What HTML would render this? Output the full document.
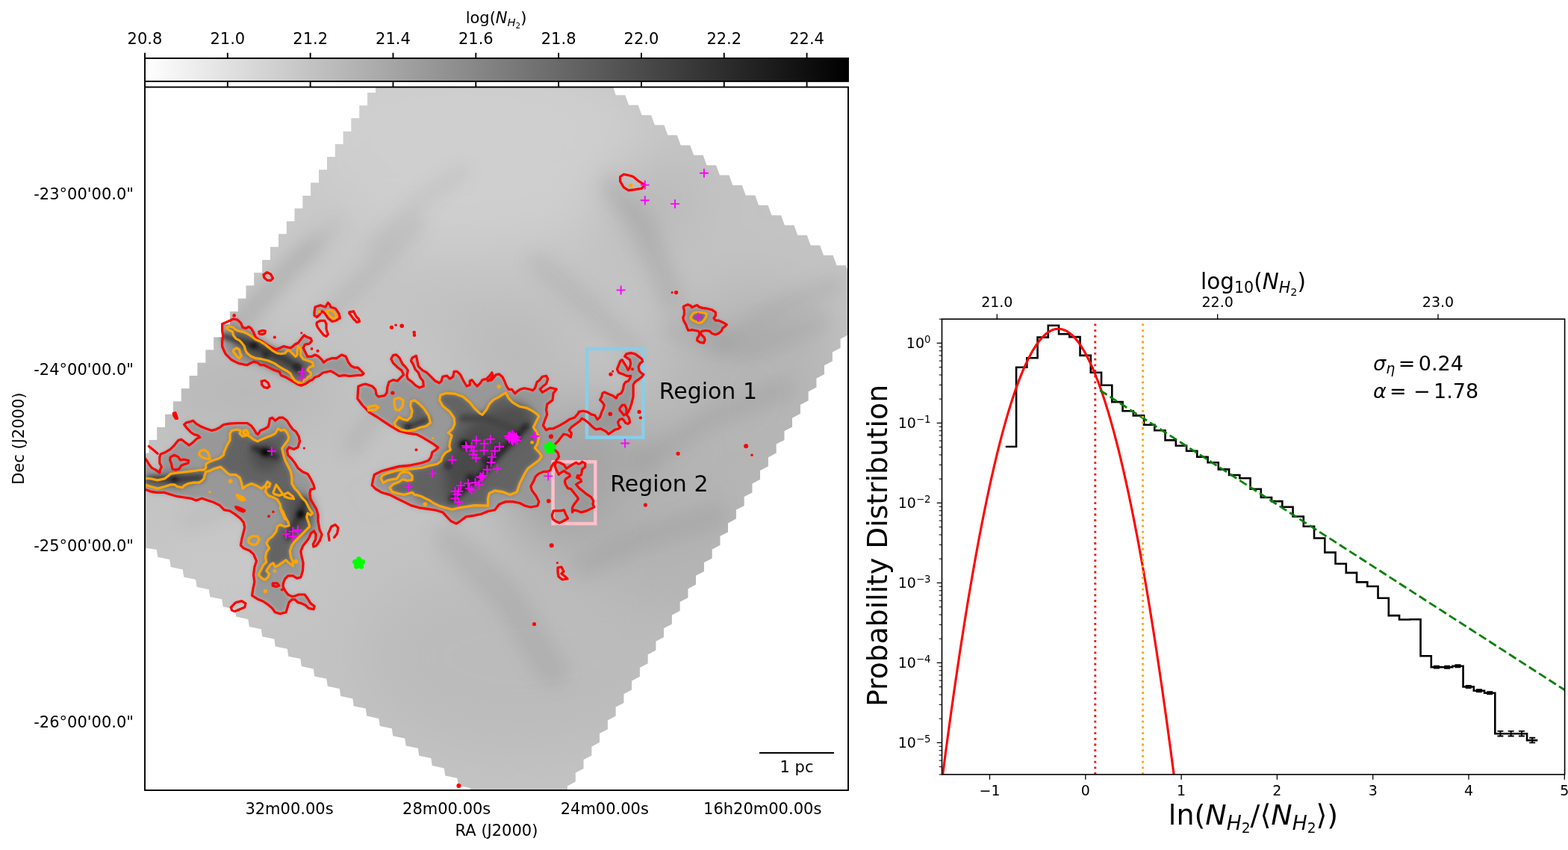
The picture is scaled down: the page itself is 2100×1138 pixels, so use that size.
<!DOCTYPE html>
<html><head><meta charset="utf-8"><style>
html,body{margin:0;padding:0;background:#fff;overflow:hidden;width:2100px;height:1138px;}
svg{display:block;}
text{font-family:"DejaVu Sans","Liberation Sans",sans-serif;fill:#000;}
</style></head><body>
<svg width="2100" height="1138" viewBox="0 0 2100 1138">
<defs><linearGradient id="cbg" x1="0" x2="1" y1="0" y2="0"><stop offset="0" stop-color="#ffffff"/><stop offset="1" stop-color="#000000"/></linearGradient><clipPath id="mapclip"><rect x="194.0" y="116.6" width="942.0" height="941.4"/></clipPath><clipPath id="axclip"><rect x="1261.5" y="427.2" width="834.1" height="609.7"/></clipPath></defs>
<rect x="194.0" y="78.0" width="942.0" height="30.9" fill="url(#cbg)"/>
<rect x="194.0" y="78.0" width="942.0" height="30.9" fill="none" stroke="#000" stroke-width="1.9"/>
<text x="194.00" y="59" text-anchor="middle" font-size="21">20.8</text>
<text x="304.82" y="59" text-anchor="middle" font-size="21">21.0</text>
<text x="415.65" y="59" text-anchor="middle" font-size="21">21.2</text>
<text x="526.47" y="59" text-anchor="middle" font-size="21">21.4</text>
<text x="637.29" y="59" text-anchor="middle" font-size="21">21.6</text>
<text x="748.12" y="59" text-anchor="middle" font-size="21">21.8</text>
<text x="858.94" y="59" text-anchor="middle" font-size="21">22.0</text>
<text x="969.76" y="59" text-anchor="middle" font-size="21">22.2</text>
<text x="1080.59" y="59" text-anchor="middle" font-size="21">22.4</text>
<path d="M194.00 70.8V78.0M194.00 108.9V116.6M304.82 70.8V78.0M304.82 108.9V116.6M415.65 70.8V78.0M415.65 108.9V116.6M526.47 70.8V78.0M526.47 108.9V116.6M637.29 70.8V78.0M637.29 108.9V116.6M748.12 70.8V78.0M748.12 108.9V116.6M858.94 70.8V78.0M858.94 108.9V116.6M969.76 70.8V78.0M969.76 108.9V116.6M1080.59 70.8V78.0M1080.59 108.9V116.6" stroke="#000" stroke-width="1.9" fill="none"/>
<text x="664.5" y="31.4" text-anchor="middle" font-size="21">log(<tspan font-style="italic">N</tspan><tspan font-size="14.7" font-style="italic" dy="3.4">H</tspan><tspan font-size="10.3" dy="2.7">2</tspan><tspan dy="-6.1">)</tspan></text>
<g clip-path="url(#mapclip)"><defs><clipPath id="dataclip"><path d="M190.0,606.4 L199.4,606.4 L199.4,589.1 L210.2,589.1 L210.2,571.9 L221.1,571.9 L221.1,554.7 L231.9,554.7 L231.9,537.5 L242.8,537.5 L242.8,520.3 L253.7,520.3 L253.7,503.0 L264.5,503.0 L264.5,485.8 L275.4,485.8 L275.4,468.6 L286.2,468.6 L286.2,451.4 L297.0,451.4 L297.0,434.2 L307.9,434.2 L307.9,416.9 L318.8,416.9 L318.8,399.7 L329.6,399.7 L329.6,382.5 L340.4,382.5 L340.4,365.3 L351.3,365.3 L351.3,348.1 L362.1,348.1 L362.1,330.8 L373.0,330.8 L373.0,313.6 L383.9,313.6 L383.9,296.4 L394.7,296.4 L394.7,279.2 L405.6,279.2 L405.6,262.0 L416.4,262.0 L416.4,244.7 L427.2,244.7 L427.2,227.5 L438.1,227.5 L438.1,210.3 L448.9,210.3 L448.9,193.1 L459.8,193.1 L459.8,175.9 L470.6,175.9 L470.6,158.6 L481.5,158.6 L481.5,141.4 L492.3,141.4 L492.3,124.2 L503.2,124.2 L503.2,112.0 L820.0,112.0 L819.8,112.0 L824.7,127.4 L837.2,127.4 L842.1,140.8 L854.6,140.8 L859.5,154.2 L872.0,154.2 L876.9,167.6 L889.4,167.6 L894.3,181.0 L906.8,181.0 L911.7,194.4 L924.2,194.4 L929.1,207.8 L941.6,207.8 L946.5,221.2 L959.0,221.2 L963.9,234.6 L976.4,234.6 L981.3,248.0 L993.8,248.0 L998.7,261.4 L1011.2,261.4 L1016.1,274.8 L1028.6,274.8 L1033.5,288.2 L1046.0,288.2 L1050.9,301.6 L1063.4,301.6 L1068.3,315.0 L1080.8,315.0 L1085.7,328.4 L1098.2,328.4 L1103.1,341.8 L1115.6,341.8 L1120.5,355.2 L1133.0,355.2 L1137.9,368.6 L1140.0,368.6 L1140.0,448.2 L1136.3,436.2 L1136.3,448.2 L1125.5,453.8 L1125.5,465.8 L1114.8,471.4 L1114.8,483.4 L1104.0,489.0 L1104.0,501.0 L1093.3,506.6 L1093.3,518.6 L1082.5,524.2 L1082.5,536.2 L1071.8,541.8 L1071.8,553.8 L1061.0,559.4 L1061.0,571.4 L1050.3,577.0 L1050.3,589.0 L1039.5,594.6 L1039.5,606.6 L1028.8,612.2 L1028.8,624.2 L1018.0,629.8 L1018.0,641.8 L1007.3,647.4 L1007.3,659.4 L996.5,665.0 L996.5,677.0 L985.8,682.6 L985.8,694.6 L975.0,700.2 L975.0,712.2 L964.3,717.8 L964.3,729.8 L953.5,735.4 L953.5,747.4 L942.8,753.0 L942.8,765.0 L932.0,770.6 L932.0,782.6 L921.3,788.2 L921.3,800.2 L910.5,805.8 L910.5,817.8 L899.8,823.4 L899.8,835.4 L889.0,841.0 L889.0,853.0 L878.3,858.6 L878.3,870.6 L867.5,876.2 L867.5,888.2 L856.8,893.8 L856.8,905.8 L846.0,911.4 L846.0,923.4 L835.3,929.0 L835.3,941.0 L824.5,946.6 L824.5,958.6 L813.8,964.2 L813.8,976.2 L803.0,981.8 L803.0,993.8 L792.3,999.4 L792.3,1011.4 L781.5,1017.0 L781.5,1029.0 L770.8,1034.6 L770.8,1046.6 L760.0,1052.2 L760.0,1064.2 L749.3,1069.8 L749.3,1081.8 L738.5,1087.4 L738.5,1099.4 L735.0,1064.0 L629.8,1064.0 L631.3,1065.0 L629.8,1055.0 L613.8,1051.7 L612.3,1041.7 L596.3,1038.4 L594.8,1028.4 L578.8,1025.1 L577.3,1015.1 L561.3,1011.8 L559.8,1001.8 L543.8,998.5 L542.3,988.5 L526.3,985.2 L524.8,975.2 L508.8,971.9 L507.3,961.9 L491.3,958.6 L489.8,948.6 L473.8,945.3 L472.3,935.3 L456.3,932.0 L454.8,922.0 L438.8,918.7 L437.3,908.7 L421.3,905.4 L419.8,895.4 L403.8,892.1 L402.3,882.1 L386.3,878.8 L384.8,868.8 L368.8,865.5 L367.3,855.5 L351.3,852.2 L349.8,842.2 L333.8,838.9 L332.3,828.9 L316.3,825.6 L314.8,815.6 L298.8,812.3 L297.3,802.3 L281.3,799.0 L279.8,789.0 L263.8,785.7 L262.3,775.7 L246.3,772.4 L244.8,762.4 L228.8,759.1 L227.3,749.1 L211.3,745.8 L209.8,735.8 L190.0,733.0Z"/></clipPath><filter id="bl3" x="-20%" y="-20%" width="140%" height="140%"><feGaussianBlur stdDeviation="3"/></filter><filter id="bl6" x="-30%" y="-30%" width="160%" height="160%"><feGaussianBlur stdDeviation="6"/></filter><filter id="bl8" x="-50%" y="-50%" width="200%" height="200%"><feGaussianBlur stdDeviation="8"/></filter><filter id="bl12" x="-50%" y="-50%" width="200%" height="200%"><feGaussianBlur stdDeviation="12"/></filter><filter id="bl20" x="-50%" y="-50%" width="200%" height="200%"><feGaussianBlur stdDeviation="20"/></filter><filter id="bl40" x="-50%" y="-50%" width="200%" height="200%"><feGaussianBlur stdDeviation="40"/></filter></defs>
<g clip-path="url(#dataclip)">
<rect x="190" y="110" width="950" height="955" fill="#c3c3c3"/>
<g filter="url(#bl40)">
<ellipse cx="620" cy="200" rx="260" ry="140" fill="#cfcfcf"/>
<ellipse cx="380" cy="330" rx="120" ry="110" fill="#c8c8c8"/>
<ellipse cx="1010" cy="530" rx="130" ry="150" fill="#b5b5b5"/>
<ellipse cx="780" cy="640" rx="110" ry="100" fill="#a2a2a2"/>
<ellipse cx="330" cy="525" rx="130" ry="55" fill="#b8b8b8"/>
<ellipse cx="640" cy="470" rx="120" ry="50" fill="#b8b8b8"/>
<ellipse cx="870" cy="270" rx="60" ry="50" fill="#b6b6b6"/>
<ellipse cx="700" cy="880" rx="220" ry="130" fill="#bbbbbb"/>
<ellipse cx="300" cy="760" rx="110" ry="60" fill="#c9c9c9"/>
<ellipse cx="560" cy="480" rx="80" ry="40" fill="#c6c6c6"/>
<ellipse cx="920" cy="720" rx="120" ry="110" fill="#b3b3b3"/>
</g>
<g filter="url(#bl12)" fill="none" stroke-linecap="round" stroke-linejoin="round">
<path d="M300.0,445.0 L360.0,390.0 L420.0,330.0" stroke="#000" stroke-opacity="0.08" stroke-width="24"/>
<path d="M330.0,430.0 L380.0,360.0 L450.0,300.0" stroke="#000" stroke-opacity="0.06" stroke-width="19"/>
<path d="M440.0,420.0 L500.0,360.0 L560.0,300.0" stroke="#000" stroke-opacity="0.06" stroke-width="24"/>
<path d="M500.0,330.0 L560.0,270.0 L620.0,230.0" stroke="#000" stroke-opacity="0.06" stroke-width="19"/>
<path d="M820.0,250.0 L860.0,300.0 L900.0,400.0" stroke="#000" stroke-opacity="0.08" stroke-width="33"/>
<path d="M900.0,440.0 L1000.0,470.0 L1100.0,430.0" stroke="#000" stroke-opacity="0.06" stroke-width="28"/>
<path d="M960.0,460.0 L1050.0,410.0 L1120.0,380.0" stroke="#000" stroke-opacity="0.06" stroke-width="24"/>
<path d="M720.0,350.0 L800.0,420.0 L850.0,470.0" stroke="#000" stroke-opacity="0.06" stroke-width="28"/>
<path d="M600.0,720.0 L680.0,800.0 L740.0,900.0" stroke="#000" stroke-opacity="0.06" stroke-width="43"/>
<path d="M860.0,620.0 L950.0,560.0 L1050.0,520.0" stroke="#000" stroke-opacity="0.06" stroke-width="28"/>
<path d="M780.0,760.0 L860.0,720.0 L960.0,690.0" stroke="#000" stroke-opacity="0.05" stroke-width="33"/>
<path d="M470.0,600.0 L500.0,560.0 L530.0,520.0" stroke="#000" stroke-opacity="0.08" stroke-width="19"/>
<path d="M250.0,700.0 L300.0,680.0 L340.0,650.0" stroke="#000" stroke-opacity="0.05" stroke-width="19"/>
</g>
<g filter="url(#bl3)">
<path d="M297.6,433.8 L307.9,429.3 L312.4,427.0 L318.1,428.1 L322.7,432.7 L325.0,438.4 L329.6,439.6 L333.0,437.3 L336.4,439.6 L339.8,445.3 L342.1,451.0 L345.6,454.4 L351.3,457.3 L357.0,461.3 L362.7,464.7 L369.6,468.1 L375.3,465.8 L379.8,463.6 L384.4,464.7 L389.0,465.8 L392.4,463.6 L394.7,461.3 L399.3,459.0 L403.8,453.3 L407.3,448.7 L410.7,451.0 L416.4,453.3 L417.5,456.7 L414.1,460.1 L408.4,461.3 L406.1,465.8 L409.5,472.7 L411.8,477.3 L417.5,477.3 L422.1,475.0 L426.7,477.3 L431.3,481.8 L433.5,485.3 L438.1,481.8 L445.0,479.6 L450.7,479.6 L457.5,475.0 L463.2,477.3 L466.7,485.3 L470.1,489.8 L474.7,492.1 L479.2,492.1 L482.7,495.5 L487.2,500.1 L483.8,502.4 L479.2,502.4 L473.5,503.0 L467.8,503.5 L461.0,502.4 L454.1,503.5 L447.2,499.0 L442.7,496.7 L438.1,497.8 L432.4,499.0 L426.7,503.5 L422.1,504.7 L418.7,508.1 L414.1,510.4 L409.5,513.8 L403.8,516.1 L399.3,515.0 L393.5,511.5 L387.8,508.1 L382.1,504.7 L376.4,502.4 L374.1,497.8 L367.3,495.5 L360.4,492.1 L353.6,488.7 L349.0,488.7 L344.4,485.3 L339.8,484.1 L335.3,486.4 L330.7,488.7 L325.0,487.6 L319.3,486.4 L314.7,484.1 L310.1,481.8 L305.6,477.3 L302.1,473.8 L299.9,469.3 L297.6,463.6 L297.6,456.7 L298.7,449.8 L297.6,443.0Z" fill="#989898"/>
<path d="M421.0,417.9 L422.1,411.0 L429.0,408.7 L435.8,411.0 L439.3,405.3 L441.5,407.6 L442.7,411.0 L449.5,413.3 L454.1,420.1 L455.2,425.9 L449.5,429.3 L445.0,430.4 L439.3,425.9 L434.7,419.0 L431.3,416.7 L427.8,421.3 L424.4,424.7 L421.0,422.4Z" fill="#989898"/>
<path d="M490.0,514.2 L498.4,517.0 L502.7,521.3 L504.1,528.3 L506.9,531.1 L515.3,529.7 L518.1,525.5 L518.8,518.4 L520.9,511.4 L526.6,508.6 L532.2,510.0 L537.8,504.4 L540.6,501.6 L537.8,495.9 L532.2,491.7 L526.6,486.1 L523.8,480.5 L526.6,475.5 L530.8,474.8 L535.0,479.1 L539.2,487.5 L543.4,491.7 L546.3,495.9 L544.8,503.0 L546.3,507.2 L551.9,511.4 L556.1,515.6 L561.7,519.1 L567.3,517.0 L566.6,510.0 L563.1,505.8 L560.3,498.8 L556.1,494.5 L553.3,487.5 L550.5,483.3 L551.9,479.1 L557.5,476.3 L558.9,483.3 L560.3,490.3 L565.9,495.9 L571.6,498.8 L577.2,504.4 L582.8,510.0 L588.4,512.8 L591.3,510.0 L592.7,504.4 L598.3,503.0 L602.5,507.2 L606.7,504.4 L608.1,497.3 L612.3,497.3 L616.6,501.6 L620.8,510.0 L625.0,517.0 L629.2,515.6 L629.2,510.0 L632.0,508.6 L636.3,514.2 L639.1,517.0 L643.3,512.8 L646.1,508.6 L651.7,507.2 L655.9,503.0 L658.8,498.8 L660.2,503.0 L657.3,507.2 L653.1,510.0 L658.8,508.6 L664.4,501.6 L668.6,500.9 L672.8,504.4 L675.6,510.0 L678.4,517.0 L681.3,521.3 L685.5,521.3 L689.7,526.9 L692.5,524.1 L696.7,521.3 L702.3,519.8 L709.4,521.3 L713.6,522.7 L716.4,519.8 L719.2,511.4 L722.1,509.5 L726.3,504.2 L731.6,503.2 L733.7,507.4 L731.6,513.7 L727.4,516.9 L723.2,521.1 L726.3,525.3 L731.6,522.2 L736.9,519.0 L745.3,521.1 L741.1,526.4 L740.0,535.9 L732.7,541.1 L731.6,548.5 L732.7,554.9 L729.5,563.3 L727.4,569.6 L731.6,575.9 L735.8,573.8 L741.1,573.8 L749.5,569.6 L756.9,565.4 L763.2,561.2 L769.6,559.1 L774.9,552.7 L775.0,551.4 L780.7,550.3 L786.4,551.4 L792.1,554.9 L796.7,556.0 L800.1,561.7 L803.6,558.3 L805.9,551.4 L808.1,546.9 L809.3,542.3 L807.0,538.9 L803.6,535.4 L805.9,530.9 L807.0,526.3 L809.3,525.1 L815.0,527.4 L820.7,529.7 L825.3,533.1 L827.6,528.6 L832.1,526.3 L834.4,521.7 L835.6,514.9 L837.9,511.4 L841.3,510.3 L843.6,506.9 L844.7,503.4 L840.1,503.4 L834.4,501.1 L828.7,498.9 L826.4,494.3 L828.7,488.6 L831.0,482.9 L833.3,481.7 L836.7,487.4 L839.0,490.9 L841.3,495.4 L843.6,492.0 L844.7,486.3 L843.6,481.7 L840.1,479.4 L836.7,477.1 L839.0,473.7 L844.7,472.6 L850.4,473.7 L855.0,477.1 L859.6,480.6 L860.7,484.0 L857.3,486.3 L855.0,490.9 L856.1,496.6 L859.6,500.0 L861.9,501.1 L859.6,504.6 L855.0,508.0 L850.4,511.4 L848.1,514.9 L848.1,522.9 L848.1,530.9 L845.9,540.0 L843.6,546.9 L841.3,551.4 L839.0,554.9 L842.4,559.4 L843.6,565.1 L841.3,567.4 L837.9,566.3 L835.6,562.9 L833.3,560.6 L829.9,561.7 L827.6,565.1 L828.7,569.7 L831.0,572.0 L827.6,574.3 L823.0,575.4 L818.4,578.9 L815.0,581.1 L811.6,577.7 L804.4,573.8 L798.1,574.9 L793.8,571.7 L788.6,566.5 L783.3,562.2 L779.1,560.1 L777.0,563.3 L772.7,566.5 L765.4,571.7 L762.2,575.9 L765.4,580.2 L764.3,585.4 L760.1,582.3 L754.8,581.2 L750.6,586.5 L747.4,590.7 L743.2,594.9 L740.0,601.3 L744.3,603.4 L747.4,606.5 L748.5,611.8 L745.3,616.0 L744.3,618.2 L749.3,619.2 L755.4,622.3 L758.4,627.3 L761.5,625.3 L767.5,621.3 L771.6,619.2 L774.6,621.3 L777.6,620.3 L779.6,618.2 L783.7,620.3 L783.7,625.3 L779.6,628.3 L778.6,635.4 L775.6,637.4 L773.6,636.4 L772.6,639.4 L777.6,641.5 L778.6,644.5 L774.6,646.5 L771.6,648.5 L775.6,653.6 L780.7,657.6 L785.7,661.7 L791.8,665.7 L794.8,670.8 L793.8,674.8 L795.8,678.8 L791.8,680.9 L785.7,683.9 L778.6,685.9 L773.6,683.9 L768.5,682.9 L766.5,685.9 L766.5,679.8 L768.5,675.8 L771.6,671.8 L774.6,667.7 L772.6,664.7 L768.5,659.6 L764.5,654.6 L760.5,653.6 L757.4,648.5 L756.4,644.5 L757.4,641.5 L760.5,639.4 L763.5,637.4 L762.5,634.4 L759.4,633.4 L755.4,630.4 L750.4,633.4 L748.3,635.4 L745.3,629.3 L743.3,624.3 L744.3,618.2 L741.3,620.3 L738.2,625.3 L737.2,629.3 L733.2,631.4 L728.1,631.4 L721.1,634.4 L717.0,638.4 L715.0,643.5 L710.7,651.3 L712.6,656.9 L718.1,664.2 L721.8,671.6 L719.9,677.2 L710.7,679.0 L703.3,677.2 L696.0,673.5 L686.7,671.6 L677.5,671.6 L668.3,675.3 L662.7,682.7 L653.5,684.5 L644.3,688.2 L635.1,690.1 L624.0,691.9 L616.6,697.5 L611.1,701.1 L603.7,697.5 L593.1,686.1 L583.6,683.0 L572.5,681.4 L561.5,679.8 L550.4,676.6 L540.9,671.9 L531.4,667.2 L521.9,662.4 L510.8,659.2 L502.9,654.5 L498.2,649.7 L499.7,641.8 L501.3,635.5 L510.8,630.8 L521.9,627.6 L534.6,624.4 L550.4,622.8 L564.6,619.7 L574.1,616.5 L577.3,611.8 L578.9,605.4 L583.6,602.3 L586.8,599.1 L580.4,594.4 L572.5,589.6 L564.6,584.9 L558.3,581.7 L547.2,580.1 L534.6,577.0 L523.5,570.6 L514.0,564.3 L504.5,558.0 L495.0,552.4 L485.4,542.5 L478.8,533.7 L479.9,517.2 L485.4,515.0Z" fill="#989898"/>
<path d="M191.4,610.0 L196.0,615.9 L199.3,621.2 L203.2,626.4 L208.5,629.1 L213.8,633.0 L214.4,629.1 L216.4,625.1 L213.8,619.9 L213.8,611.9 L215.1,608.0 L221.7,605.4 L228.3,601.4 L233.5,596.1 L238.8,589.5 L242.8,588.2 L248.0,592.2 L253.3,596.1 L258.6,592.2 L263.9,586.9 L267.8,585.6 L265.2,583.0 L259.9,581.6 L255.9,579.0 L250.7,573.7 L246.7,568.5 L249.4,565.8 L254.6,564.5 L258.6,563.2 L262.5,567.1 L269.1,571.1 L275.7,573.7 L283.6,576.4 L288.9,575.0 L294.2,572.4 L299.4,568.5 L307.4,567.1 L317.9,566.5 L331.1,566.5 L336.3,569.8 L340.3,575.0 L343.5,580.3 L345.5,581.6 L348.8,576.4 L355.4,573.7 L359.3,571.1 L360.6,565.8 L361.3,560.5 L364.6,559.2 L368.5,563.2 L373.8,559.2 L379.1,559.2 L384.4,563.2 L388.3,569.8 L392.3,575.0 L396.2,577.7 L400.2,584.3 L401.5,590.9 L398.9,598.8 L393.6,601.4 L387.0,598.8 L384.4,602.7 L385.7,609.3 L390.9,614.6 L394.9,619.9 L398.9,626.4 L405.4,631.7 L412.0,634.4 L416.0,640.9 L419.9,648.9 L421.3,654.1 L416.0,655.4 L414.7,660.7 L416.0,668.6 L419.9,675.2 L423.9,681.8 L425.9,689.7 L425.9,697.6 L427.9,709.0 L431.1,715.6 L428.5,723.5 L423.9,730.1 L419.9,732.1 L419.3,728.8 L422.6,722.2 L423.2,715.6 L420.6,711.0 L416.6,713.6 L413.4,720.9 L409.4,726.1 L405.4,731.4 L402.8,738.0 L404.1,745.9 L406.1,753.8 L405.4,764.4 L402.8,772.9 L397.5,774.2 L392.3,770.9 L385.7,770.9 L381.7,774.9 L379.1,781.5 L379.1,785.4 L381.7,790.7 L385.7,796.0 L390.9,798.6 L394.9,798.0 L400.2,796.0 L408.1,796.0 L412.0,801.3 L416.0,807.9 L421.3,811.8 L419.9,815.8 L413.4,814.4 L409.4,810.5 L404.1,807.9 L398.9,806.5 L394.9,802.6 L390.9,802.6 L387.0,806.5 L385.0,813.1 L383.0,819.7 L375.1,821.7 L368.5,819.7 L364.6,814.4 L359.3,809.8 L352.7,805.2 L344.8,801.9 L337.6,797.3 L338.9,788.1 L340.9,778.9 L339.5,769.6 L340.9,759.1 L343.5,751.2 L339.5,741.9 L334.3,737.3 L326.4,734.0 L322.4,730.1 L323.7,722.2 L325.7,714.3 L327.7,706.4 L326.4,699.8 L322.4,694.5 L315.8,689.2 L307.9,684.0 L300.0,682.6 L299.4,681.8 L294.2,676.5 L286.3,672.6 L278.4,669.9 L270.4,667.3 L262.5,669.9 L255.9,667.3 L246.7,666.0 L237.5,664.7 L228.3,662.0 L220.4,659.4 L209.8,659.4 L201.9,658.1 L191.4,654.1Z" fill="#989898"/>
<path d="M228.3,611.9 L233.5,609.3 L238.8,611.9 L241.4,615.9 L246.7,615.2 L252.7,616.6 L252.0,619.9 L246.7,621.8 L242.8,623.2 L240.1,627.8 L234.9,629.1 L230.9,627.8 L229.6,621.2 L227.6,615.9Z" fill="#989898"/>
<path d="M915.6,410.1 L921.1,407.7 L925.1,409.3 L926.6,411.6 L929.8,410.1 L933.8,408.5 L936.1,410.9 L940.9,412.4 L947.2,413.2 L953.5,414.8 L958.3,418.0 L958.3,422.7 L955.9,425.9 L958.3,429.1 L962.2,429.1 L967.8,431.4 L973.3,434.6 L970.9,437.0 L967.8,439.3 L966.2,443.3 L962.2,446.5 L958.3,448.0 L953.5,446.5 L950.4,443.3 L945.6,442.5 L940.1,443.3 L937.7,445.7 L940.1,448.8 L943.3,452.0 L944.1,455.2 L942.5,459.1 L937.7,458.3 L933.8,455.9 L933.8,452.8 L936.1,449.6 L936.9,445.7 L935.3,443.3 L931.4,442.5 L926.6,441.7 L921.9,442.5 L920.3,439.3 L918.7,434.6 L915.6,429.1 L914.8,425.1 L916.4,421.1 L916.4,415.6 L915.2,411.6Z" fill="#989898"/>
<path d="M303.3,438.4 L307.9,436.7 L312.4,438.4 L314.7,440.7 L319.3,443.0 L325.0,444.1 L330.7,446.4 L336.4,449.8 L342.1,454.4 L347.8,456.7 L353.6,460.1 L359.3,464.7 L365.0,469.3 L370.7,472.7 L376.4,473.8 L382.1,472.7 L384.4,469.3 L387.8,469.3 L392.4,473.8 L395.8,477.3 L398.1,475.0 L398.1,468.1 L399.3,463.6 L401.5,464.7 L402.7,469.3 L402.7,476.1 L406.1,480.7 L413.0,483.0 L418.7,485.3 L419.8,489.8 L414.1,492.1 L411.8,495.5 L416.4,499.0 L416.4,502.4 L413.0,504.7 L408.4,508.1 L405.0,511.5 L400.4,512.7 L394.7,509.3 L391.3,504.7 L389.0,500.1 L384.4,496.7 L379.8,494.4 L374.1,491.0 L367.3,486.4 L359.3,483.0 L350.1,480.7 L342.1,479.6 L336.4,477.3 L330.7,472.7 L328.4,468.1 L327.3,463.6 L323.8,459.0 L320.4,455.6 L315.9,453.3 L312.4,448.7 L311.3,444.1 L306.7,441.8 L303.3,439.6Z" fill="#646464"/>
<path d="M589.9,528.7 L597.8,526.3 L608.9,527.1 L620.0,531.1 L629.5,539.0 L635.8,546.9 L642.2,553.2 L646.1,555.4 L651.7,548.0 L655.4,540.6 L660.9,535.1 L668.3,531.4 L673.8,527.7 L677.5,525.8 L681.2,533.2 L686.7,538.8 L696.0,544.3 L705.2,546.1 L712.6,549.8 L718.1,553.5 L721.8,557.2 L718.1,564.6 L714.4,572.0 L718.1,577.5 L721.8,584.9 L719.9,594.1 L716.3,599.6 L721.8,605.2 L725.5,610.7 L721.8,616.3 L714.4,621.8 L707.0,627.3 L703.3,632.9 L699.6,640.2 L696.0,647.6 L692.3,658.7 L683.0,662.4 L673.8,658.7 L662.7,656.9 L655.4,660.5 L653.5,667.9 L653.5,677.2 L635.8,676.6 L626.3,678.2 L615.3,679.8 L605.8,682.2 L596.3,679.8 L588.4,677.4 L580.4,673.5 L575.7,670.3 L569.4,667.2 L564.6,664.8 L559.9,663.2 L555.1,662.4 L552.0,659.2 L547.2,660.8 L540.9,662.4 L533.0,660.8 L525.1,658.4 L521.9,652.9 L526.6,648.2 L534.6,645.0 L539.3,641.8 L545.6,643.4 L552.0,642.6 L552.0,637.1 L547.2,632.3 L540.9,631.6 L536.1,633.9 L531.4,641.0 L525.1,641.8 L518.7,643.4 L513.2,646.6 L510.0,640.3 L512.4,636.3 L520.3,633.1 L531.4,630.0 L542.5,628.4 L555.1,627.3 L566.2,626.0 L574.1,623.6 L585.2,621.3 L590.7,617.3 L592.3,611.8 L596.3,606.2 L603.4,602.3 L601.8,597.5 L602.6,591.2 L605.0,583.3 L600.2,579.3 L605.8,574.6 L608.9,567.5 L608.1,559.6 L602.6,551.6 L593.1,543.7 L588.4,535.8Z" fill="#646464"/>
<path d="M550.4,537.4 L555.1,535.8 L561.5,540.6 L567.8,546.9 L574.1,556.4 L576.5,565.9 L570.9,570.6 L563.0,572.2 L555.1,575.4 L545.6,577.0 L537.7,575.4 L529.8,570.6 L528.2,565.9 L534.6,558.0 L539.3,561.1 L545.6,562.7 L550.4,558.0 L552.0,550.1 L549.6,543.7Z" fill="#646464"/>
<path d="M191.4,640.3 L201.9,640.9 L211.1,642.9 L220.4,640.9 L225.6,637.0 L228.3,634.4 L237.5,633.0 L249.4,631.7 L259.9,630.4 L267.8,629.1 L273.1,629.1 L275.7,626.4 L275.7,621.2 L279.7,618.5 L286.3,615.9 L294.2,613.3 L299.4,609.3 L300.0,605.4 L304.0,596.1 L307.9,589.5 L307.9,580.3 L310.5,576.4 L317.1,575.0 L322.4,576.4 L321.1,580.3 L325.0,584.3 L330.3,583.0 L333.0,580.3 L330.3,576.4 L326.4,576.4 L326.4,580.3 L334.3,584.3 L339.5,588.2 L344.8,590.9 L350.1,588.2 L356.7,585.6 L363.3,583.0 L368.5,580.3 L372.5,573.7 L376.4,576.4 L380.4,575.0 L384.4,579.0 L387.0,585.6 L385.7,589.5 L381.7,594.8 L377.8,600.1 L379.1,606.7 L381.7,615.9 L385.7,623.8 L389.6,631.7 L390.9,639.6 L390.9,647.5 L394.9,654.1 L398.9,658.1 L404.1,666.0 L409.4,671.3 L412.0,676.5 L414.7,681.8 L418.6,687.1 L416.0,689.7 L412.0,687.1 L410.7,692.3 L413.4,700.0 L414.7,705.0 L412.0,707.7 L405.4,714.3 L400.2,719.5 L394.9,724.8 L390.9,730.1 L388.3,738.0 L389.6,745.9 L392.3,752.5 L392.3,757.8 L387.0,753.8 L383.0,749.9 L379.1,752.5 L373.8,756.4 L368.5,759.1 L365.9,753.8 L361.9,756.4 L359.3,760.4 L356.7,764.4 L360.6,768.3 L359.3,772.3 L355.4,776.2 L351.4,774.9 L346.1,769.6 L350.1,761.7 L352.7,756.4 L356.7,752.5 L355.4,745.9 L356.7,739.3 L360.6,734.0 L356.7,727.4 L359.3,722.2 L364.6,718.2 L369.9,711.6 L371.2,705.0 L375.1,702.4 L381.7,705.0 L387.0,703.7 L385.7,698.5 L381.7,691.9 L379.1,685.3 L375.1,680.0 L381.7,695.0 L379.1,688.4 L376.4,681.8 L375.1,675.2 L371.2,668.6 L365.9,666.0 L359.3,663.4 L355.4,658.1 L356.7,652.8 L360.6,651.5 L361.9,647.5 L358.0,644.9 L355.4,650.2 L350.1,654.1 L343.5,650.2 L336.9,647.5 L330.3,650.2 L325.0,654.1 L323.7,647.5 L321.1,639.6 L315.8,635.7 L307.9,635.7 L304.0,633.0 L300.0,629.1 L295.5,625.1 L286.3,627.8 L281.0,630.4 L275.7,631.7 L274.4,635.7 L273.1,640.9 L270.4,643.6 L266.5,646.2 L258.6,646.2 L252.0,647.5 L246.7,650.2 L244.1,652.8 L237.5,651.5 L233.5,648.9 L228.3,648.9 L220.4,651.5 L211.1,654.1 L201.9,651.5 L191.4,648.2Z" fill="#646464"/>
<path d="M925.1,424.3 L928.2,419.6 L932.2,418.0 L937.7,418.0 L943.3,418.8 L946.4,420.3 L945.6,424.3 L942.5,429.1 L939.3,432.2 L935.3,432.2 L931.4,430.6 L928.2,429.1 L925.1,426.7Z" fill="#646464"/>
</g>
<g filter="url(#bl8)">
<path d="M600.0,672.0 L625.0,655.0 L650.0,628.0 L690.0,590.0 L708.0,565.0 L700.0,548.0 L670.0,545.0 L640.0,560.0 L615.0,585.0 L600.0,610.0 L590.0,640.0Z" fill="#4a4a4a"/>
<path d="M640.0,560.0 L670.0,545.0 L700.0,540.0 L712.0,555.0 L705.0,575.0 L680.0,580.0 L650.0,580.0Z" fill="#505050"/>
<path d="M560.0,640.0 L590.0,625.0 L600.0,650.0 L585.0,670.0 L560.0,670.0Z" fill="#606060"/>
<path d="M340.0,595.0 L360.0,590.0 L378.0,605.0 L370.0,625.0 L350.0,630.0 L335.0,615.0Z" fill="#4c4c4c"/>
<path d="M395.0,660.0 L415.0,670.0 L418.0,700.0 L405.0,715.0 L390.0,705.0 L388.0,680.0Z" fill="#4c4c4c"/>
<path d="M315.0,452.0 L345.0,458.0 L380.0,478.0 L405.0,492.0 L400.0,500.0 L370.0,492.0 L340.0,478.0 L312.0,462.0Z" fill="#4a4a4a"/>
<path d="M210.0,636.0 L240.0,636.0 L262.0,640.0 L245.0,648.0 L215.0,648.0Z" fill="#505050"/>
</g>
<g filter="url(#bl3)" fill="none" stroke-linecap="round" stroke-linejoin="round">
<path d="M605.0,668.0 L640.0,640.0 L665.0,610.0 L690.0,585.0 L705.0,570.0" stroke="#252525" stroke-width="9"/>
<path d="M300.0,450.0 L340.0,463.0 L380.0,480.0 L400.0,493.0" stroke="#303030" stroke-width="7"/>
<path d="M200.0,640.0 L233.0,642.0 L270.0,640.0" stroke="#303030" stroke-width="6"/>
<path d="M385.0,720.0 L395.0,700.0 L403.0,688.0 L408.0,670.0" stroke="#303030" stroke-width="7"/>
<path d="M340.0,600.0 L355.0,605.0 L370.0,612.0" stroke="#282828" stroke-width="7"/>
<path d="M545.0,572.0 L560.0,567.0 L572.0,562.0" stroke="#333333" stroke-width="6"/>
<path d="M620.0,560.0 L650.0,560.0 L690.0,575.0" stroke="#444444" stroke-width="10"/>
</g>
<g filter="url(#bl3)">
<ellipse cx="622.0" cy="595.0" rx="7.0" ry="5.0" fill="#000"/>
<ellipse cx="600.0" cy="623.0" rx="3.5" ry="3.5" fill="#111"/>
<ellipse cx="651.0" cy="616.0" rx="4.0" ry="4.0" fill="#111"/>
<ellipse cx="688.0" cy="585.0" rx="6.0" ry="5.0" fill="#111"/>
<ellipse cx="545.6" cy="572.2" rx="3.5" ry="3.0" fill="#111"/>
<ellipse cx="339.8" cy="462.4" rx="5.0" ry="3.5" fill="#000"/>
<ellipse cx="355.8" cy="475.0" rx="3.0" ry="3.0" fill="#111"/>
<ellipse cx="398.1" cy="492.1" rx="4.0" ry="4.0" fill="#111"/>
<ellipse cx="355.4" cy="605.4" rx="6.0" ry="5.0" fill="#000"/>
<ellipse cx="402.8" cy="688.4" rx="5.0" ry="5.0" fill="#000"/>
<ellipse cx="233.5" cy="642.3" rx="4.0" ry="3.0" fill="#000"/>
<ellipse cx="665.0" cy="600.0" rx="6.0" ry="6.0" fill="#333"/>
<ellipse cx="630.0" cy="640.0" rx="6.0" ry="6.0" fill="#222"/>
</g>
</g>
<rect x="785.9" y="466.9" width="75.4" height="118.8" fill="none" stroke="#87ceeb" stroke-width="4.4"/>
<rect x="740.6" y="618.3" width="56.7" height="82.8" fill="none" stroke="#ffc0cb" stroke-width="4.4"/>
<path d="M297.6,433.8 L307.9,429.3 L312.4,427.0 L318.1,428.1 L322.7,432.7 L325.0,438.4 L329.6,439.6 L333.0,437.3 L336.4,439.6 L339.8,445.3 L342.1,451.0 L345.6,454.4 L351.3,457.3 L357.0,461.3 L362.7,464.7 L369.6,468.1 L375.3,465.8 L379.8,463.6 L384.4,464.7 L389.0,465.8 L392.4,463.6 L394.7,461.3 L399.3,459.0 L403.8,453.3 L407.3,448.7 L410.7,451.0 L416.4,453.3 L417.5,456.7 L414.1,460.1 L408.4,461.3 L406.1,465.8 L409.5,472.7 L411.8,477.3 L417.5,477.3 L422.1,475.0 L426.7,477.3 L431.3,481.8 L433.5,485.3 L438.1,481.8 L445.0,479.6 L450.7,479.6 L457.5,475.0 L463.2,477.3 L466.7,485.3 L470.1,489.8 L474.7,492.1 L479.2,492.1 L482.7,495.5 L487.2,500.1 L483.8,502.4 L479.2,502.4 L473.5,503.0 L467.8,503.5 L461.0,502.4 L454.1,503.5 L447.2,499.0 L442.7,496.7 L438.1,497.8 L432.4,499.0 L426.7,503.5 L422.1,504.7 L418.7,508.1 L414.1,510.4 L409.5,513.8 L403.8,516.1 L399.3,515.0 L393.5,511.5 L387.8,508.1 L382.1,504.7 L376.4,502.4 L374.1,497.8 L367.3,495.5 L360.4,492.1 L353.6,488.7 L349.0,488.7 L344.4,485.3 L339.8,484.1 L335.3,486.4 L330.7,488.7 L325.0,487.6 L319.3,486.4 L314.7,484.1 L310.1,481.8 L305.6,477.3 L302.1,473.8 L299.9,469.3 L297.6,463.6 L297.6,456.7 L298.7,449.8 L297.6,443.0Z" fill="none" stroke="#ff0000" stroke-width="3.2" stroke-linejoin="round" stroke-linecap="round"/>
<path d="M421.0,417.9 L422.1,411.0 L429.0,408.7 L435.8,411.0 L439.3,405.3 L441.5,407.6 L442.7,411.0 L449.5,413.3 L454.1,420.1 L455.2,425.9 L449.5,429.3 L445.0,430.4 L439.3,425.9 L434.7,419.0 L431.3,416.7 L427.8,421.3 L424.4,424.7 L421.0,422.4Z" fill="none" stroke="#ff0000" stroke-width="3.2" stroke-linejoin="round" stroke-linecap="round"/>
<path d="M424.4,431.6 L429.0,429.3 L434.7,429.3 L437.0,433.8 L437.0,440.7 L439.3,447.6 L437.0,450.4 L433.5,448.7 L429.0,443.0 L425.5,438.4 L423.8,433.8Z" fill="none" stroke="#ff0000" stroke-width="3.2" stroke-linejoin="round" stroke-linecap="round"/>
<path d="M467.8,417.9 L473.5,416.7 L477.0,423.6 L480.4,427.0 L481.5,430.4 L478.1,431.6 L473.5,427.0 L470.1,422.4 L467.8,419.6Z" fill="none" stroke="#ff0000" stroke-width="3.2" stroke-linejoin="round" stroke-linecap="round"/>
<path d="M346.7,444.1 L351.3,442.4 L355.3,443.0 L354.7,446.4 L350.1,447.6 L347.3,447.0Z" fill="none" stroke="#ff0000" stroke-width="3.2" stroke-linejoin="round" stroke-linecap="round"/>
<path d="M350.1,510.4 L354.7,509.3 L359.3,512.7 L361.0,517.3 L358.1,519.5 L353.6,518.4 L350.7,515.0Z" fill="none" stroke="#ff0000" stroke-width="3.2" stroke-linejoin="round" stroke-linecap="round"/>
<path d="M490.0,514.2 L498.4,517.0 L502.7,521.3 L504.1,528.3 L506.9,531.1 L515.3,529.7 L518.1,525.5 L518.8,518.4 L520.9,511.4 L526.6,508.6 L532.2,510.0 L537.8,504.4 L540.6,501.6 L537.8,495.9 L532.2,491.7 L526.6,486.1 L523.8,480.5 L526.6,475.5 L530.8,474.8 L535.0,479.1 L539.2,487.5 L543.4,491.7 L546.3,495.9 L544.8,503.0 L546.3,507.2 L551.9,511.4 L556.1,515.6 L561.7,519.1 L567.3,517.0 L566.6,510.0 L563.1,505.8 L560.3,498.8 L556.1,494.5 L553.3,487.5 L550.5,483.3 L551.9,479.1 L557.5,476.3 L558.9,483.3 L560.3,490.3 L565.9,495.9 L571.6,498.8 L577.2,504.4 L582.8,510.0 L588.4,512.8 L591.3,510.0 L592.7,504.4 L598.3,503.0 L602.5,507.2 L606.7,504.4 L608.1,497.3 L612.3,497.3 L616.6,501.6 L620.8,510.0 L625.0,517.0 L629.2,515.6 L629.2,510.0 L632.0,508.6 L636.3,514.2 L639.1,517.0 L643.3,512.8 L646.1,508.6 L651.7,507.2 L655.9,503.0 L658.8,498.8 L660.2,503.0 L657.3,507.2 L653.1,510.0 L658.8,508.6 L664.4,501.6 L668.6,500.9 L672.8,504.4 L675.6,510.0 L678.4,517.0 L681.3,521.3 L685.5,521.3 L689.7,526.9 L692.5,524.1 L696.7,521.3 L702.3,519.8 L709.4,521.3 L713.6,522.7 L716.4,519.8 L719.2,511.4 L722.1,509.5 L726.3,504.2 L731.6,503.2 L733.7,507.4 L731.6,513.7 L727.4,516.9 L723.2,521.1 L726.3,525.3 L731.6,522.2 L736.9,519.0 L745.3,521.1 L741.1,526.4 L740.0,535.9 L732.7,541.1 L731.6,548.5 L732.7,554.9 L729.5,563.3 L727.4,569.6 L731.6,575.9 L735.8,573.8 L741.1,573.8 L749.5,569.6 L756.9,565.4 L763.2,561.2 L769.6,559.1 L774.9,552.7 L775.0,551.4 L780.7,550.3 L786.4,551.4 L792.1,554.9 L796.7,556.0 L800.1,561.7 L803.6,558.3 L805.9,551.4 L808.1,546.9 L809.3,542.3 L807.0,538.9 L803.6,535.4 L805.9,530.9 L807.0,526.3 L809.3,525.1 L815.0,527.4 L820.7,529.7 L825.3,533.1 L827.6,528.6 L832.1,526.3 L834.4,521.7 L835.6,514.9 L837.9,511.4 L841.3,510.3 L843.6,506.9 L844.7,503.4 L840.1,503.4 L834.4,501.1 L828.7,498.9 L826.4,494.3 L828.7,488.6 L831.0,482.9 L833.3,481.7 L836.7,487.4 L839.0,490.9 L841.3,495.4 L843.6,492.0 L844.7,486.3 L843.6,481.7 L840.1,479.4 L836.7,477.1 L839.0,473.7 L844.7,472.6 L850.4,473.7 L855.0,477.1 L859.6,480.6 L860.7,484.0 L857.3,486.3 L855.0,490.9 L856.1,496.6 L859.6,500.0 L861.9,501.1 L859.6,504.6 L855.0,508.0 L850.4,511.4 L848.1,514.9 L848.1,522.9 L848.1,530.9 L845.9,540.0 L843.6,546.9 L841.3,551.4 L839.0,554.9 L842.4,559.4 L843.6,565.1 L841.3,567.4 L837.9,566.3 L835.6,562.9 L833.3,560.6 L829.9,561.7 L827.6,565.1 L828.7,569.7 L831.0,572.0 L827.6,574.3 L823.0,575.4 L818.4,578.9 L815.0,581.1 L811.6,577.7 L804.4,573.8 L798.1,574.9 L793.8,571.7 L788.6,566.5 L783.3,562.2 L779.1,560.1 L777.0,563.3 L772.7,566.5 L765.4,571.7 L762.2,575.9 L765.4,580.2 L764.3,585.4 L760.1,582.3 L754.8,581.2 L750.6,586.5 L747.4,590.7 L743.2,594.9 L740.0,601.3 L744.3,603.4 L747.4,606.5 L748.5,611.8 L745.3,616.0 L744.3,618.2 L749.3,619.2 L755.4,622.3 L758.4,627.3 L761.5,625.3 L767.5,621.3 L771.6,619.2 L774.6,621.3 L777.6,620.3 L779.6,618.2 L783.7,620.3 L783.7,625.3 L779.6,628.3 L778.6,635.4 L775.6,637.4 L773.6,636.4 L772.6,639.4 L777.6,641.5 L778.6,644.5 L774.6,646.5 L771.6,648.5 L775.6,653.6 L780.7,657.6 L785.7,661.7 L791.8,665.7 L794.8,670.8 L793.8,674.8 L795.8,678.8 L791.8,680.9 L785.7,683.9 L778.6,685.9 L773.6,683.9 L768.5,682.9 L766.5,685.9 L766.5,679.8 L768.5,675.8 L771.6,671.8 L774.6,667.7 L772.6,664.7 L768.5,659.6 L764.5,654.6 L760.5,653.6 L757.4,648.5 L756.4,644.5 L757.4,641.5 L760.5,639.4 L763.5,637.4 L762.5,634.4 L759.4,633.4 L755.4,630.4 L750.4,633.4 L748.3,635.4 L745.3,629.3 L743.3,624.3 L744.3,618.2 L741.3,620.3 L738.2,625.3 L737.2,629.3 L733.2,631.4 L728.1,631.4 L721.1,634.4 L717.0,638.4 L715.0,643.5 L710.7,651.3 L712.6,656.9 L718.1,664.2 L721.8,671.6 L719.9,677.2 L710.7,679.0 L703.3,677.2 L696.0,673.5 L686.7,671.6 L677.5,671.6 L668.3,675.3 L662.7,682.7 L653.5,684.5 L644.3,688.2 L635.1,690.1 L624.0,691.9 L616.6,697.5 L611.1,701.1 L603.7,697.5 L593.1,686.1 L583.6,683.0 L572.5,681.4 L561.5,679.8 L550.4,676.6 L540.9,671.9 L531.4,667.2 L521.9,662.4 L510.8,659.2 L502.9,654.5 L498.2,649.7 L499.7,641.8 L501.3,635.5 L510.8,630.8 L521.9,627.6 L534.6,624.4 L550.4,622.8 L564.6,619.7 L574.1,616.5 L577.3,611.8 L578.9,605.4 L583.6,602.3 L586.8,599.1 L580.4,594.4 L572.5,589.6 L564.6,584.9 L558.3,581.7 L547.2,580.1 L534.6,577.0 L523.5,570.6 L514.0,564.3 L504.5,558.0 L495.0,552.4 L485.4,542.5 L478.8,533.7 L479.9,517.2 L485.4,515.0Z" fill="none" stroke="#ff0000" stroke-width="3.2" stroke-linejoin="round" stroke-linecap="round"/>
<path d="M829.9,546.9 L833.3,542.3 L836.7,542.3 L839.0,546.9 L839.0,553.7 L835.6,556.0 L832.1,551.4 L829.9,549.1Z" fill="none" stroke="#ff0000" stroke-width="3.2" stroke-linejoin="round" stroke-linecap="round"/>
<path d="M741.3,683.9 L745.3,683.9 L750.4,683.9 L755.4,682.9 L757.4,687.9 L760.5,694.0 L755.4,697.0 L749.3,700.1 L744.3,698.0 L740.3,695.0 L739.2,689.9Z" fill="none" stroke="#ff0000" stroke-width="3.2" stroke-linejoin="round" stroke-linecap="round"/>
<path d="M191.4,610.0 L196.0,615.9 L199.3,621.2 L203.2,626.4 L208.5,629.1 L213.8,633.0 L214.4,629.1 L216.4,625.1 L213.8,619.9 L213.8,611.9 L215.1,608.0 L221.7,605.4 L228.3,601.4 L233.5,596.1 L238.8,589.5 L242.8,588.2 L248.0,592.2 L253.3,596.1 L258.6,592.2 L263.9,586.9 L267.8,585.6 L265.2,583.0 L259.9,581.6 L255.9,579.0 L250.7,573.7 L246.7,568.5 L249.4,565.8 L254.6,564.5 L258.6,563.2 L262.5,567.1 L269.1,571.1 L275.7,573.7 L283.6,576.4 L288.9,575.0 L294.2,572.4 L299.4,568.5 L307.4,567.1 L317.9,566.5 L331.1,566.5 L336.3,569.8 L340.3,575.0 L343.5,580.3 L345.5,581.6 L348.8,576.4 L355.4,573.7 L359.3,571.1 L360.6,565.8 L361.3,560.5 L364.6,559.2 L368.5,563.2 L373.8,559.2 L379.1,559.2 L384.4,563.2 L388.3,569.8 L392.3,575.0 L396.2,577.7 L400.2,584.3 L401.5,590.9 L398.9,598.8 L393.6,601.4 L387.0,598.8 L384.4,602.7 L385.7,609.3 L390.9,614.6 L394.9,619.9 L398.9,626.4 L405.4,631.7 L412.0,634.4 L416.0,640.9 L419.9,648.9 L421.3,654.1 L416.0,655.4 L414.7,660.7 L416.0,668.6 L419.9,675.2 L423.9,681.8 L425.9,689.7 L425.9,697.6 L427.9,709.0 L431.1,715.6 L428.5,723.5 L423.9,730.1 L419.9,732.1 L419.3,728.8 L422.6,722.2 L423.2,715.6 L420.6,711.0 L416.6,713.6 L413.4,720.9 L409.4,726.1 L405.4,731.4 L402.8,738.0 L404.1,745.9 L406.1,753.8 L405.4,764.4 L402.8,772.9 L397.5,774.2 L392.3,770.9 L385.7,770.9 L381.7,774.9 L379.1,781.5 L379.1,785.4 L381.7,790.7 L385.7,796.0 L390.9,798.6 L394.9,798.0 L400.2,796.0 L408.1,796.0 L412.0,801.3 L416.0,807.9 L421.3,811.8 L419.9,815.8 L413.4,814.4 L409.4,810.5 L404.1,807.9 L398.9,806.5 L394.9,802.6 L390.9,802.6 L387.0,806.5 L385.0,813.1 L383.0,819.7 L375.1,821.7 L368.5,819.7 L364.6,814.4 L359.3,809.8 L352.7,805.2 L344.8,801.9 L337.6,797.3 L338.9,788.1 L340.9,778.9 L339.5,769.6 L340.9,759.1 L343.5,751.2 L339.5,741.9 L334.3,737.3 L326.4,734.0 L322.4,730.1 L323.7,722.2 L325.7,714.3 L327.7,706.4 L326.4,699.8 L322.4,694.5 L315.8,689.2 L307.9,684.0 L300.0,682.6 L299.4,681.8 L294.2,676.5 L286.3,672.6 L278.4,669.9 L270.4,667.3 L262.5,669.9 L255.9,667.3 L246.7,666.0 L237.5,664.7 L228.3,662.0 L220.4,659.4 L209.8,659.4 L201.9,658.1 L191.4,654.1" fill="none" stroke="#ff0000" stroke-width="3.2" stroke-linejoin="round" stroke-linecap="round"/>
<path d="M199.3,597.4 L205.9,602.7 L211.1,607.3" fill="none" stroke="#ff0000" stroke-width="3.2" stroke-linejoin="round" stroke-linecap="round"/>
<path d="M228.3,611.9 L233.5,609.3 L238.8,611.9 L241.4,615.9 L246.7,615.2 L252.7,616.6 L252.0,619.9 L246.7,621.8 L242.8,623.2 L240.1,627.8 L234.9,629.1 L230.9,627.8 L229.6,621.2 L227.6,615.9Z" fill="none" stroke="#ff0000" stroke-width="3.2" stroke-linejoin="round" stroke-linecap="round"/>
<path d="M315.9,678.5 L321.9,680.5 L327.1,683.1 L325.8,685.1 L320.5,683.1 L316.6,680.5Z" fill="none" stroke="#ff0000" stroke-width="3.2" stroke-linejoin="round" stroke-linecap="round"/>
<path d="M232.2,553.3 L234.9,552.6 L236.8,557.9 L237.5,560.5 L235.5,560.5 L232.9,556.6Z" fill="none" stroke="#ff0000" stroke-width="3.2" stroke-linejoin="round" stroke-linecap="round"/>
<path d="M315.8,678.5 L322.4,681.1 L327.7,683.8 L323.7,684.4 L317.1,680.5Z" fill="none" stroke="#ff0000" stroke-width="3.2" stroke-linejoin="round" stroke-linecap="round"/>
<path d="M365.2,780.8 L371.2,780.8 L373.8,784.1 L369.9,785.4 L365.2,784.1Z" fill="none" stroke="#ff0000" stroke-width="3.2" stroke-linejoin="round" stroke-linecap="round"/>
<path d="M309.2,813.1 L315.8,806.5 L323.7,804.6 L329.0,807.9 L327.7,813.1 L321.1,815.8 L314.5,818.4 L310.5,817.1Z" fill="none" stroke="#ff0000" stroke-width="3.2" stroke-linejoin="round" stroke-linecap="round"/>
<path d="M441.0,723.5 L439.7,714.3 L443.7,705.0 L448.9,702.4 L452.9,706.4 L451.6,714.3 L447.6,719.5" fill="none" stroke="#ff0000" stroke-width="3.2" stroke-linejoin="round" stroke-linecap="round"/>
<path d="M830.6,236.5 L835.4,233.4 L843.3,235.0 L848.0,236.5 L855.9,242.9 L863.8,247.6 L859.1,252.4 L849.6,253.9 L841.7,254.9 L835.4,250.8 L830.6,242.9Z" fill="none" stroke="#ff0000" stroke-width="3.2" stroke-linejoin="round" stroke-linecap="round"/>
<path d="M915.6,410.1 L921.1,407.7 L925.1,409.3 L926.6,411.6 L929.8,410.1 L933.8,408.5 L936.1,410.9 L940.9,412.4 L947.2,413.2 L953.5,414.8 L958.3,418.0 L958.3,422.7 L955.9,425.9 L958.3,429.1 L962.2,429.1 L967.8,431.4 L973.3,434.6 L970.9,437.0 L967.8,439.3 L966.2,443.3 L962.2,446.5 L958.3,448.0 L953.5,446.5 L950.4,443.3 L945.6,442.5 L940.1,443.3 L937.7,445.7 L940.1,448.8 L943.3,452.0 L944.1,455.2 L942.5,459.1 L937.7,458.3 L933.8,455.9 L933.8,452.8 L936.1,449.6 L936.9,445.7 L935.3,443.3 L931.4,442.5 L926.6,441.7 L921.9,442.5 L920.3,439.3 L918.7,434.6 L915.6,429.1 L914.8,425.1 L916.4,421.1 L916.4,415.6 L915.2,411.6Z" fill="none" stroke="#ff0000" stroke-width="3.2" stroke-linejoin="round" stroke-linecap="round"/>
<path d="M352.9,367.8 L357.7,364.7 L362.4,366.9 L365.6,372.6 L362.4,375.7 L357.7,375.1 L353.9,371.9Z" fill="none" stroke="#ff0000" stroke-width="3.2" stroke-linejoin="round" stroke-linecap="round"/>
<path d="M747.0,760.0 L752.0,759.0 L755.0,765.0 L752.0,768.0 L757.0,772.0 L760.0,775.0 L753.0,776.0 L748.0,772.0 L747.0,766.0Z" fill="none" stroke="#ff0000" stroke-width="3.2" stroke-linejoin="round" stroke-linecap="round"/>
<path d="M303.3,438.4 L307.9,436.7 L312.4,438.4 L314.7,440.7 L319.3,443.0 L325.0,444.1 L330.7,446.4 L336.4,449.8 L342.1,454.4 L347.8,456.7 L353.6,460.1 L359.3,464.7 L365.0,469.3 L370.7,472.7 L376.4,473.8 L382.1,472.7 L384.4,469.3 L387.8,469.3 L392.4,473.8 L395.8,477.3 L398.1,475.0 L398.1,468.1 L399.3,463.6 L401.5,464.7 L402.7,469.3 L402.7,476.1 L406.1,480.7 L413.0,483.0 L418.7,485.3 L419.8,489.8 L414.1,492.1 L411.8,495.5 L416.4,499.0 L416.4,502.4 L413.0,504.7 L408.4,508.1 L405.0,511.5 L400.4,512.7 L394.7,509.3 L391.3,504.7 L389.0,500.1 L384.4,496.7 L379.8,494.4 L374.1,491.0 L367.3,486.4 L359.3,483.0 L350.1,480.7 L342.1,479.6 L336.4,477.3 L330.7,472.7 L328.4,468.1 L327.3,463.6 L323.8,459.0 L320.4,455.6 L315.9,453.3 L312.4,448.7 L311.3,444.1 L306.7,441.8 L303.3,439.6Z" fill="none" stroke="#ffa500" stroke-width="3.2" stroke-linejoin="round" stroke-linecap="round"/>
<path d="M313.0,468.1 L317.0,465.8 L320.4,468.1 L321.6,472.7 L323.3,476.7 L320.4,479.6 L317.6,477.3 L314.7,473.8 L312.4,471.0Z" fill="none" stroke="#ffa500" stroke-width="3.2" stroke-linejoin="round" stroke-linecap="round"/>
<path d="M438.1,415.6 L443.8,415.6 L448.4,419.0 L450.7,424.7 L447.2,427.0 L442.7,423.6 L439.3,420.1 L437.0,416.7Z" fill="none" stroke="#ffa500" stroke-width="3.2" stroke-linejoin="round" stroke-linecap="round"/>
<path d="M589.9,528.7 L597.8,526.3 L608.9,527.1 L620.0,531.1 L629.5,539.0 L635.8,546.9 L642.2,553.2 L646.1,555.4 L651.7,548.0 L655.4,540.6 L660.9,535.1 L668.3,531.4 L673.8,527.7 L677.5,525.8 L681.2,533.2 L686.7,538.8 L696.0,544.3 L705.2,546.1 L712.6,549.8 L718.1,553.5 L721.8,557.2 L718.1,564.6 L714.4,572.0 L718.1,577.5 L721.8,584.9 L719.9,594.1 L716.3,599.6 L721.8,605.2 L725.5,610.7 L721.8,616.3 L714.4,621.8 L707.0,627.3 L703.3,632.9 L699.6,640.2 L696.0,647.6 L692.3,658.7 L683.0,662.4 L673.8,658.7 L662.7,656.9 L655.4,660.5 L653.5,667.9 L653.5,677.2 L635.8,676.6 L626.3,678.2 L615.3,679.8 L605.8,682.2 L596.3,679.8 L588.4,677.4 L580.4,673.5 L575.7,670.3 L569.4,667.2 L564.6,664.8 L559.9,663.2 L555.1,662.4 L552.0,659.2 L547.2,660.8 L540.9,662.4 L533.0,660.8 L525.1,658.4 L521.9,652.9 L526.6,648.2 L534.6,645.0 L539.3,641.8 L545.6,643.4 L552.0,642.6 L552.0,637.1 L547.2,632.3 L540.9,631.6 L536.1,633.9 L531.4,641.0 L525.1,641.8 L518.7,643.4 L513.2,646.6 L510.0,640.3 L512.4,636.3 L520.3,633.1 L531.4,630.0 L542.5,628.4 L555.1,627.3 L566.2,626.0 L574.1,623.6 L585.2,621.3 L590.7,617.3 L592.3,611.8 L596.3,606.2 L603.4,602.3 L601.8,597.5 L602.6,591.2 L605.0,583.3 L600.2,579.3 L605.8,574.6 L608.9,567.5 L608.1,559.6 L602.6,551.6 L593.1,543.7 L588.4,535.8Z" fill="none" stroke="#ffa500" stroke-width="3.2" stroke-linejoin="round" stroke-linecap="round"/>
<path d="M528.2,534.2 L534.6,532.7 L540.1,535.8 L539.3,543.7 L534.6,549.3 L529.8,548.5 L528.2,542.2Z" fill="none" stroke="#ffa500" stroke-width="3.2" stroke-linejoin="round" stroke-linecap="round"/>
<path d="M550.4,537.4 L555.1,535.8 L561.5,540.6 L567.8,546.9 L574.1,556.4 L576.5,565.9 L570.9,570.6 L563.0,572.2 L555.1,575.4 L545.6,577.0 L537.7,575.4 L529.8,570.6 L528.2,565.9 L534.6,558.0 L539.3,561.1 L545.6,562.7 L550.4,558.0 L552.0,550.1 L549.6,543.7Z" fill="none" stroke="#ffa500" stroke-width="3.2" stroke-linejoin="round" stroke-linecap="round"/>
<path d="M493.4,544.5 L502.9,542.9 L506.9,545.3 L502.9,548.5 L493.4,549.3Z" fill="none" stroke="#ffa500" stroke-width="3.2" stroke-linejoin="round" stroke-linecap="round"/>
<path d="M191.4,640.3 L201.9,640.9 L211.1,642.9 L220.4,640.9 L225.6,637.0 L228.3,634.4 L237.5,633.0 L249.4,631.7 L259.9,630.4 L267.8,629.1 L273.1,629.1 L275.7,626.4 L275.7,621.2 L279.7,618.5 L286.3,615.9 L294.2,613.3 L299.4,609.3 L300.0,605.4 L304.0,596.1 L307.9,589.5 L307.9,580.3 L310.5,576.4 L317.1,575.0 L322.4,576.4 L321.1,580.3 L325.0,584.3 L330.3,583.0 L333.0,580.3 L330.3,576.4 L326.4,576.4 L326.4,580.3 L334.3,584.3 L339.5,588.2 L344.8,590.9 L350.1,588.2 L356.7,585.6 L363.3,583.0 L368.5,580.3 L372.5,573.7 L376.4,576.4 L380.4,575.0 L384.4,579.0 L387.0,585.6 L385.7,589.5 L381.7,594.8 L377.8,600.1 L379.1,606.7 L381.7,615.9 L385.7,623.8 L389.6,631.7 L390.9,639.6 L390.9,647.5 L394.9,654.1 L398.9,658.1 L404.1,666.0 L409.4,671.3 L412.0,676.5 L414.7,681.8 L418.6,687.1 L416.0,689.7 L412.0,687.1 L410.7,692.3 L413.4,700.0 L414.7,705.0 L412.0,707.7 L405.4,714.3 L400.2,719.5 L394.9,724.8 L390.9,730.1 L388.3,738.0 L389.6,745.9 L392.3,752.5 L392.3,757.8 L387.0,753.8 L383.0,749.9 L379.1,752.5 L373.8,756.4 L368.5,759.1 L365.9,753.8 L361.9,756.4 L359.3,760.4 L356.7,764.4 L360.6,768.3 L359.3,772.3 L355.4,776.2 L351.4,774.9 L346.1,769.6 L350.1,761.7 L352.7,756.4 L356.7,752.5 L355.4,745.9 L356.7,739.3 L360.6,734.0 L356.7,727.4 L359.3,722.2 L364.6,718.2 L369.9,711.6 L371.2,705.0 L375.1,702.4 L381.7,705.0 L387.0,703.7 L385.7,698.5 L381.7,691.9 L379.1,685.3 L375.1,680.0 L381.7,695.0 L379.1,688.4 L376.4,681.8 L375.1,675.2 L371.2,668.6 L365.9,666.0 L359.3,663.4 L355.4,658.1 L356.7,652.8 L360.6,651.5 L361.9,647.5 L358.0,644.9 L355.4,650.2 L350.1,654.1 L343.5,650.2 L336.9,647.5 L330.3,650.2 L325.0,654.1 L323.7,647.5 L321.1,639.6 L315.8,635.7 L307.9,635.7 L304.0,633.0 L300.0,629.1 L295.5,625.1 L286.3,627.8 L281.0,630.4 L275.7,631.7 L274.4,635.7 L273.1,640.9 L270.4,643.6 L266.5,646.2 L258.6,646.2 L252.0,647.5 L246.7,650.2 L244.1,652.8 L237.5,651.5 L233.5,648.9 L228.3,648.9 L220.4,651.5 L211.1,654.1 L201.9,651.5 L191.4,648.2" fill="none" stroke="#ffa500" stroke-width="3.2" stroke-linejoin="round" stroke-linecap="round"/>
<path d="M267.8,604.0 L273.1,602.1 L278.4,605.4 L280.3,610.6 L281.0,614.6 L274.4,613.9 L269.1,611.3 L266.5,608.0Z" fill="none" stroke="#ffa500" stroke-width="3.2" stroke-linejoin="round" stroke-linecap="round"/>
<path d="M326.5,576.4 L329.8,575.7 L331.7,578.3 L330.4,581.4 L327.1,581.4 L325.8,578.7Z" fill="none" stroke="#ffa500" stroke-width="3.2" stroke-linejoin="round" stroke-linecap="round"/>
<path d="M317.9,662.7 L325.8,666.0 L327.8,669.3 L324.5,669.9 L319.2,666.0Z" fill="none" stroke="#ffa500" stroke-width="3.2" stroke-linejoin="round" stroke-linecap="round"/>
<path d="M365.9,659.4 L369.9,648.9 L376.4,658.1 L379.1,662.0 L373.8,663.4 L367.2,661.4Z" fill="none" stroke="#ffa500" stroke-width="3.2" stroke-linejoin="round" stroke-linecap="round"/>
<path d="M380.4,662.0 L385.7,659.4 L392.3,664.7 L393.6,668.0 L385.7,666.6 L381.1,664.7Z" fill="none" stroke="#ffa500" stroke-width="3.2" stroke-linejoin="round" stroke-linecap="round"/>
<path d="M317.1,662.7 L323.7,665.3 L327.0,669.3 L323.1,669.9 L318.5,666.0Z" fill="none" stroke="#ffa500" stroke-width="3.2" stroke-linejoin="round" stroke-linecap="round"/>
<path d="M333.0,720.9 L338.2,717.6 L344.8,718.2 L347.4,722.2 L343.5,728.8 L338.2,729.4 L333.0,726.1Z" fill="none" stroke="#ffa500" stroke-width="3.2" stroke-linejoin="round" stroke-linecap="round"/>
<path d="M925.1,424.3 L928.2,419.6 L932.2,418.0 L937.7,418.0 L943.3,418.8 L946.4,420.3 L945.6,424.3 L942.5,429.1 L939.3,432.2 L935.3,432.2 L931.4,430.6 L928.2,429.1 L925.1,426.7Z" fill="none" stroke="#ffa500" stroke-width="3.2" stroke-linejoin="round" stroke-linecap="round"/>
<circle cx="313.6" cy="422.4" r="2.3" fill="#ff0000"/>
<circle cx="367.8" cy="451.6" r="2.1" fill="#ff0000"/>
<circle cx="403.8" cy="445.8" r="1.6" fill="#ff0000"/>
<circle cx="417.5" cy="467.0" r="1.9" fill="#ff0000"/>
<circle cx="425.5" cy="469.8" r="2.1" fill="#ff0000"/>
<circle cx="817.9" cy="501.1" r="2.6" fill="#ff0000"/>
<circle cx="820.7" cy="497.1" r="1.6" fill="#ff0000"/>
<circle cx="847.0" cy="494.3" r="2.0" fill="#ff0000"/>
<circle cx="817.3" cy="554.3" r="2.8" fill="#ff0000"/>
<circle cx="856.1" cy="551.4" r="2.6" fill="#ff0000"/>
<circle cx="857.9" cy="559.4" r="2.1" fill="#ff0000"/>
<circle cx="734.7" cy="670.8" r="2.8" fill="#ff0000"/>
<circle cx="737.9" cy="584.4" r="3.0" fill="#ff0000"/>
<circle cx="557.5" cy="602.3" r="2.0" fill="#ff0000"/>
<circle cx="525.9" cy="526.0" r="2.6" fill="#ff0000"/>
<circle cx="738.4" cy="584.0" r="2.6" fill="#ff0000"/>
<circle cx="407.4" cy="600.1" r="1.6" fill="#ff0000"/>
<circle cx="377.8" cy="789.4" r="2.0" fill="#ff0000"/>
<circle cx="360.0" cy="691.2" r="2.0" fill="#ff0000"/>
<circle cx="365.9" cy="685.3" r="1.8" fill="#ff0000"/>
<circle cx="900.2" cy="391.6" r="1.6" fill="#ff0000"/>
<circle cx="905.6" cy="391.6" r="2.6" fill="#ff0000"/>
<circle cx="524.5" cy="438.3" r="2.6" fill="#ff0000"/>
<circle cx="530.1" cy="435.2" r="1.8" fill="#ff0000"/>
<circle cx="538.2" cy="436.2" r="2.8" fill="#ff0000"/>
<circle cx="554.7" cy="445.0" r="2.3" fill="#ff0000"/>
<circle cx="555.0" cy="448.8" r="2.3" fill="#ff0000"/>
<circle cx="908.1" cy="607.3" r="2.6" fill="#ff0000"/>
<circle cx="999.1" cy="597.3" r="3.0" fill="#ff0000"/>
<circle cx="1007.0" cy="609.2" r="1.8" fill="#ff0000"/>
<circle cx="864.4" cy="676.1" r="2.6" fill="#ff0000"/>
<circle cx="738.7" cy="730.3" r="3.0" fill="#ff0000"/>
<circle cx="746.4" cy="753.5" r="1.6" fill="#ff0000"/>
<circle cx="715.5" cy="835.5" r="2.6" fill="#ff0000"/>
<circle cx="614.4" cy="1051.9" r="3.0" fill="#ff0000"/>
<circle cx="427.3" cy="417.3" r="2.3" fill="#ffa500"/>
<circle cx="579.7" cy="586.5" r="1.6" fill="#ffa500"/>
<circle cx="569.4" cy="675.1" r="2.8" fill="#ffa500"/>
<circle cx="668.3" cy="517.5" r="2.8" fill="#ffa500"/>
<circle cx="712.6" cy="592.3" r="2.4" fill="#ffa500"/>
<circle cx="308.7" cy="644.2" r="2.6" fill="#ffa500"/>
<circle cx="281.0" cy="658.7" r="1.8" fill="#ffa500"/>
<circle cx="308.6" cy="644.2" r="2.6" fill="#ffa500"/>
<circle cx="396.2" cy="751.8" r="3.0" fill="#ffa500"/>
<circle cx="367.9" cy="764.4" r="2.2" fill="#ffa500"/>
<circle cx="355.4" cy="791.4" r="2.6" fill="#ffa500"/>
<circle cx="844.9" cy="248.2" r="2.6" fill="#ffa500"/>
<path d="M857.8 247.6h12M863.8 241.6v12M857.8 268.2h12M863.8 262.2v12M898.0 272.9h12M904.0 266.9v12M936.9 231.8h12M942.9 225.8v12M825.6 388.4h12M831.6 382.4v12M929.0 424.7h12M935.0 418.7v12M831.1 593.5h12M837.1 587.5v12M728.2 637.4h12M734.2 631.4v12M399.0 497.8h12M405.0 491.8v12M398.0 505.5h12M404.0 499.5v12M357.9 604.0h12M363.9 598.0v12M377.0 714.9h12M383.0 708.9v12M386.3 711.6h12M392.3 705.6v12M386.3 718.2h12M392.3 712.2v12M392.9 709.7h12M398.9 703.7v12M572.9 633.9h12M578.9 627.9v12M541.2 652.1h12M547.2 646.1v12M710.3 584.0h12M716.3 578.0v12M599.6 615.7h12M605.6 609.7v12M632.0 589.6h12M638.0 583.6v12M650.9 587.9h12M656.9 581.9v12M642.6 594.0h12M648.6 588.0v12M619.0 599.3h12M625.0 593.3v12M618.0 596.9h12M624.0 590.9v12M628.6 603.7h12M634.6 597.7v12M627.7 608.5h12M633.7 602.5v12M631.5 613.3h12M637.5 607.3v12M625.7 597.9h12M631.7 591.9v12M642.2 603.2h12M648.2 597.2v12M656.7 603.7h12M662.7 597.7v12M662.9 597.9h12M668.9 591.9v12M652.8 611.9h12M658.8 605.9v12M651.8 619.1h12M657.8 613.1v12M660.0 627.8h12M666.0 621.8v12M646.5 628.8h12M652.5 622.8v12M641.2 637.0h12M647.2 631.0v12M639.3 639.4h12M645.3 633.4v12M637.3 638.5h12M643.3 632.5v12M635.4 649.1h12M641.4 643.1v12M630.6 646.2h12M636.6 640.2v12M620.9 647.2h12M626.9 641.2v12M622.8 653.9h12M628.8 647.9v12M625.7 655.9h12M631.7 649.9v12M611.2 650.1h12M617.2 644.1v12M608.3 657.8h12M614.3 651.8v12M603.5 657.8h12M609.5 651.8v12M606.4 661.7h12M612.4 655.7v12M603.5 667.5h12M609.5 661.5v12M608.3 672.3h12M614.3 666.3v12M677.0 583.4h12M683.0 577.4v12M679.9 581.4h12M685.9 575.4v12M681.8 587.2h12M687.8 581.2v12M685.7 585.3h12M691.7 579.3v12M686.6 590.1h12M692.6 584.1v12M676.0 587.2h12M682.0 581.2v12M677.9 585.3h12M683.9 579.3v12M678.9 588.7h12M684.9 582.7v12M682.3 583.4h12M688.3 577.4v12M684.2 588.2h12M690.2 582.2v12M680.8 590.3h12M686.8 584.3v12M675.0 584.3h12M681.0 578.3v12M683.2 585.8h12M689.2 579.8v12" stroke="#ff00ff" stroke-width="1.9" fill="none"/>
<path d="M480.6,748.4 L482.4,751.6 L485.9,752.3 L483.5,754.9 L483.9,758.5 L480.6,757.0 L477.3,758.5 L477.7,754.9 L475.3,752.3 L478.8,751.6Z" fill="#00ff00" stroke="#00ff00" stroke-width="6.5" stroke-linejoin="round"/>
<path d="M736.3,593.8 L738.1,597.0 L741.6,597.7 L739.2,600.3 L739.6,603.9 L736.3,602.4 L733.0,603.9 L733.4,600.3 L731.0,597.7 L734.5,597.0Z" fill="#00ff00" stroke="#00ff00" stroke-width="6.5" stroke-linejoin="round"/>
<text x="882.7" y="533.5" font-size="30">Region 1</text>
<text x="817.2" y="658.2" font-size="30">Region 2</text>
<path d="M1017 1008H1117" stroke="#000" stroke-width="2"/>
<text x="1067" y="1034" text-anchor="middle" font-size="21">1 pc</text></g>
<rect x="194.0" y="116.6" width="942.0" height="941.4" fill="none" stroke="#000" stroke-width="1.9"/>
<text x="179" y="266.7" text-anchor="end" font-size="21">-23°00'00.0&quot;</text>
<text x="179" y="502.2" text-anchor="end" font-size="21">-24°00'00.0&quot;</text>
<text x="179" y="737.8" text-anchor="end" font-size="21">-25°00'00.0&quot;</text>
<text x="179" y="973.8" text-anchor="end" font-size="21">-26°00'00.0&quot;</text>
<text x="387.5" y="1089.5" text-anchor="middle" font-size="21">32m00.00s</text>
<text x="598.2" y="1089.5" text-anchor="middle" font-size="21">28m00.00s</text>
<text x="809.8" y="1089.5" text-anchor="middle" font-size="21">24m00.00s</text>
<text x="1021.2" y="1089.5" text-anchor="middle" font-size="21">16h20m00.00s</text>
<text x="665" y="1118.5" text-anchor="middle" font-size="21">RA (J2000)</text>
<text transform="translate(32,587.2) rotate(-90)" text-anchor="middle" font-size="21">Dec (J2000)</text>
<path d="M1346.80 598.00H1361.05V491.70H1375.30V479.20H1389.55V451.60H1403.80V435.80H1418.05V447.20H1432.30V451.10H1446.55V475.90H1460.80V498.70H1475.05V515.80H1489.30V538.10H1503.55V550.20H1517.80V556.40H1532.05V568.70H1546.30V576.20H1560.55V589.40H1574.80V596.80H1589.05V603.80H1603.30V611.70H1617.55V619.30H1631.80V628.40H1646.05V636.00H1660.30V640.20H1674.55V654.80H1688.80V666.00H1703.05V671.10H1717.30V678.70H1731.55V691.50H1745.80V704.70H1760.05V720.50H1774.30V739.60H1788.55V754.80H1802.80V766.90H1817.05V779.40H1831.30V785.00H1845.55V800.80H1859.80V824.10H1874.05V829.50H1888.30V829.30H1902.55V878.20H1916.80V893.10H1931.05V893.30H1945.30V891.70H1959.55V919.50H1973.80V924.80H1988.05V927.80H2002.30V982.20H2016.55V982.20H2030.80V982.20H2045.05V991.10H2059.30" fill="none" stroke="#000" stroke-width="2.6" stroke-linejoin="miter"/>
<path d="M1923.92 891.60V894.60M1919.92 891.60H1927.92M1919.92 894.60H1927.92M1938.17 891.80V894.80M1934.17 891.80H1942.17M1934.17 894.80H1942.17M1952.42 890.20V893.20M1948.42 890.20H1956.42M1948.42 893.20H1956.42M1966.67 917.90V921.10M1962.67 917.90H1970.67M1962.67 921.10H1970.67M1980.92 923.20V926.40M1976.92 923.20H1984.92M1976.92 926.40H1984.92M1995.17 926.20V929.40M1991.17 926.20H1999.17M1991.17 929.40H1999.17M2009.42 978.90V985.50M2005.42 978.90H2013.42M2005.42 985.50H2013.42M2023.67 978.90V985.50M2019.67 978.90H2027.67M2019.67 985.50H2027.67M2037.92 978.90V985.50M2033.92 978.90H2041.92M2033.92 985.50H2041.92M2052.18 987.80V994.40M2048.18 987.80H2056.18M2048.18 994.40H2056.18" fill="none" stroke="#000" stroke-width="1.9"/>
<polyline points="1248.52,1150.64 1249.80,1139.88 1251.09,1129.21 1252.37,1118.62 1253.65,1108.11 1254.93,1097.68 1256.22,1087.34 1257.50,1077.07 1258.78,1066.89 1260.07,1056.79 1261.35,1046.78 1262.63,1036.84 1263.92,1026.99 1265.20,1017.22 1266.48,1007.53 1267.76,997.92 1269.05,988.40 1270.33,978.96 1271.61,969.60 1272.90,960.32 1274.18,951.12 1275.46,942.01 1276.75,932.98 1278.03,924.02 1279.31,915.16 1280.60,906.37 1281.88,897.67 1283.16,889.04 1284.44,880.50 1285.73,872.05 1287.01,863.67 1288.29,855.38 1289.58,847.16 1290.86,839.03 1292.14,830.99 1293.42,823.02 1294.71,815.14 1295.99,807.33 1297.27,799.61 1298.56,791.98 1299.84,784.42 1301.12,776.95 1302.41,769.56 1303.69,762.25 1304.97,755.02 1306.26,747.87 1307.54,740.81 1308.82,733.83 1310.10,726.93 1311.39,720.11 1312.67,713.38 1313.95,706.72 1315.24,700.15 1316.52,693.66 1317.80,687.26 1319.09,680.93 1320.37,674.69 1321.65,668.53 1322.93,662.45 1324.22,656.45 1325.50,650.54 1326.78,644.70 1328.07,638.95 1329.35,633.28 1330.63,627.70 1331.91,622.19 1333.20,616.77 1334.48,611.43 1335.76,606.17 1337.05,600.99 1338.33,595.90 1339.61,590.89 1340.90,585.96 1342.18,581.11 1343.46,576.34 1344.75,571.66 1346.03,567.05 1347.31,562.53 1348.59,558.10 1349.88,553.74 1351.16,549.46 1352.44,545.27 1353.73,541.16 1355.01,537.13 1356.29,533.19 1357.58,529.32 1358.86,525.54 1360.14,521.84 1361.42,518.22 1362.71,514.69 1363.99,511.24 1365.27,507.86 1366.56,504.57 1367.84,501.37 1369.12,498.24 1370.40,495.20 1371.69,492.24 1372.97,489.36 1374.25,486.56 1375.54,483.84 1376.82,481.21 1378.10,478.66 1379.39,476.19 1380.67,473.80 1381.95,471.50 1383.24,469.27 1384.52,467.13 1385.80,465.07 1387.08,463.10 1388.37,461.20 1389.65,459.39 1390.93,457.66 1392.22,456.01 1393.50,454.44 1394.78,452.96 1396.07,451.55 1397.35,450.23 1398.63,448.99 1399.91,447.84 1401.20,446.76 1402.48,445.77 1403.76,444.86 1405.05,444.03 1406.33,443.28 1407.61,442.62 1408.89,442.04 1410.18,441.54 1411.46,441.12 1412.74,440.78 1414.03,440.53 1415.31,440.35 1416.59,440.26 1417.88,440.26 1419.16,440.33 1420.44,440.49 1421.73,440.72 1423.01,441.04 1424.29,441.45 1425.57,441.93 1426.86,442.50 1428.14,443.14 1429.42,443.87 1430.71,444.69 1431.99,445.58 1433.27,446.56 1434.56,447.61 1435.84,448.76 1437.12,449.98 1438.40,451.28 1439.69,452.67 1440.97,454.14 1442.25,455.69 1443.54,457.32 1444.82,459.03 1446.10,460.83 1447.39,462.71 1448.67,464.67 1449.95,466.71 1451.23,468.84 1452.52,471.04 1453.80,473.33 1455.08,475.70 1456.37,478.16 1457.65,480.69 1458.93,483.31 1460.22,486.01 1461.50,488.79 1462.78,491.65 1464.06,494.60 1465.35,497.63 1466.63,500.73 1467.91,503.93 1469.20,507.20 1470.48,510.55 1471.76,513.99 1473.05,517.51 1474.33,521.11 1475.61,524.80 1476.89,528.56 1478.18,532.41 1479.46,536.34 1480.74,540.35 1482.03,544.44 1483.31,548.62 1484.59,552.88 1485.88,557.22 1487.16,561.64 1488.44,566.14 1489.72,570.73 1491.01,575.40 1492.29,580.15 1493.57,584.98 1494.86,589.89 1496.14,594.89 1497.42,599.97 1498.71,605.13 1499.99,610.37 1501.27,615.69 1502.55,621.10 1503.84,626.59 1505.12,632.16 1506.40,637.81 1507.69,643.55 1508.97,649.36 1510.25,655.26 1511.54,661.24 1512.82,667.30 1514.10,673.45 1515.38,679.68 1516.67,685.98 1517.95,692.37 1519.23,698.85 1520.52,705.40 1521.80,712.04 1523.08,718.76 1524.37,725.56 1525.65,732.44 1526.93,739.41 1528.21,746.45 1529.50,753.58 1530.78,760.79 1532.06,768.09 1533.35,775.46 1534.63,782.92 1535.91,790.46 1537.20,798.08 1538.48,805.78 1539.76,813.57 1541.04,821.44 1542.33,829.39 1543.61,837.42 1544.89,845.53 1546.18,853.73 1547.46,862.00 1548.74,870.36 1550.03,878.81 1551.31,887.33 1552.59,895.94 1553.87,904.62 1555.16,913.39 1556.44,922.24 1557.72,931.18 1559.01,940.19 1560.29,949.29 1561.57,958.47 1562.86,967.73 1564.14,977.08 1565.42,986.50 1566.70,996.01 1567.99,1005.60 1569.27,1015.28 1570.55,1025.03 1571.84,1034.87 1573.12,1044.78 1574.40,1054.79 1575.69,1064.87 1576.97,1075.03 1578.25,1085.28 1579.53,1095.61 1580.82,1106.02 1582.10,1116.51 1583.38,1127.08 1584.67,1137.74 1585.95,1148.48 1587.23,1159.30 1588.52,1170.20 1589.80,1181.19 1591.08,1192.26 1592.36,1203.40 1593.65,1214.64" fill="none" stroke="#ff0000" stroke-width="3.1" clip-path="url(#axclip)"/>
<line x1="1473.17" y1="522.53" x2="2095.60" y2="923.79" stroke="#008000" stroke-width="2.8" stroke-dasharray="11.1 4.8"/>
<line x1="1466.8" y1="1036.9" x2="1466.8" y2="432" stroke="#ff0000" stroke-width="2.8" stroke-dasharray="2.8 4.9"/>
<line x1="1530.6" y1="1036.9" x2="1530.6" y2="432" stroke="#ffa500" stroke-width="2.8" stroke-dasharray="2.8 4.9"/>
<rect x="1261.5" y="427.2" width="834.1" height="609.7" fill="none" stroke="#000" stroke-width="1.6"/>
<text x="1325.50" y="1064.9" text-anchor="middle" font-size="19">−1</text>
<text x="1453.80" y="1064.9" text-anchor="middle" font-size="19">0</text>
<text x="1582.10" y="1064.9" text-anchor="middle" font-size="19">1</text>
<text x="1710.40" y="1064.9" text-anchor="middle" font-size="19">2</text>
<text x="1838.70" y="1064.9" text-anchor="middle" font-size="19">3</text>
<text x="1967.00" y="1064.9" text-anchor="middle" font-size="19">4</text>
<text x="2095.30" y="1064.9" text-anchor="middle" font-size="19">5</text>
<text x="1335.30" y="410.8" text-anchor="middle" font-size="19">21.0</text>
<text x="1630.65" y="410.8" text-anchor="middle" font-size="19">22.0</text>
<text x="1926.00" y="410.8" text-anchor="middle" font-size="19">23.0</text>
<text x="1246.5" y="466.40" text-anchor="end" font-size="19">10<tspan font-size="13.3" dy="-7.2">0</tspan></text>
<text x="1246.5" y="573.40" text-anchor="end" font-size="19">10<tspan font-size="13.3" dy="-7.2">−1</tspan></text>
<text x="1246.5" y="680.40" text-anchor="end" font-size="19">10<tspan font-size="13.3" dy="-7.2">−2</tspan></text>
<text x="1246.5" y="787.40" text-anchor="end" font-size="19">10<tspan font-size="13.3" dy="-7.2">−3</tspan></text>
<text x="1246.5" y="894.40" text-anchor="end" font-size="19">10<tspan font-size="13.3" dy="-7.2">−4</tspan></text>
<text x="1246.5" y="1001.40" text-anchor="end" font-size="19">10<tspan font-size="13.3" dy="-7.2">−5</tspan></text>
<path d="M1325.50 1036.9V1043.7M1453.80 1036.9V1043.7M1582.10 1036.9V1043.7M1710.40 1036.9V1043.7M1838.70 1036.9V1043.7M1967.00 1036.9V1043.7M2095.30 1036.9V1043.7M1335.30 427.2V420.4M1630.65 427.2V420.4M1926.00 427.2V420.4M1254.7 459.40H1261.5M1254.7 566.40H1261.5M1254.7 673.40H1261.5M1254.7 780.40H1261.5M1254.7 887.40H1261.5M1254.7 994.40H1261.5" stroke="#000" stroke-width="1.3" fill="none"/>
<path d="M1257.7 427.19H1261.5M1257.7 534.19H1261.5M1257.7 515.35H1261.5M1257.7 501.98H1261.5M1257.7 491.61H1261.5M1257.7 483.14H1261.5M1257.7 475.97H1261.5M1257.7 469.77H1261.5M1257.7 464.30H1261.5M1257.7 641.19H1261.5M1257.7 622.35H1261.5M1257.7 608.98H1261.5M1257.7 598.61H1261.5M1257.7 590.14H1261.5M1257.7 582.97H1261.5M1257.7 576.77H1261.5M1257.7 571.30H1261.5M1257.7 748.19H1261.5M1257.7 729.35H1261.5M1257.7 715.98H1261.5M1257.7 705.61H1261.5M1257.7 697.14H1261.5M1257.7 689.97H1261.5M1257.7 683.77H1261.5M1257.7 678.30H1261.5M1257.7 855.19H1261.5M1257.7 836.35H1261.5M1257.7 822.98H1261.5M1257.7 812.61H1261.5M1257.7 804.14H1261.5M1257.7 796.97H1261.5M1257.7 790.77H1261.5M1257.7 785.30H1261.5M1257.7 962.19H1261.5M1257.7 943.35H1261.5M1257.7 929.98H1261.5M1257.7 919.61H1261.5M1257.7 911.14H1261.5M1257.7 903.97H1261.5M1257.7 897.77H1261.5M1257.7 892.30H1261.5M1257.7 1036.98H1261.5M1257.7 1026.61H1261.5M1257.7 1018.14H1261.5M1257.7 1010.97H1261.5M1257.7 1004.77H1261.5M1257.7 999.30H1261.5" stroke="#000" stroke-width="1.0" fill="none"/>
<text x="1678.5" y="1104.4" text-anchor="middle" font-size="38">ln(<tspan font-style="italic">N</tspan><tspan font-style="italic" font-size="26.6" dy="6.2">H</tspan><tspan font-size="18.6" dy="4.8">2</tspan><tspan dy="-11">/⟨</tspan><tspan font-style="italic">N</tspan><tspan font-style="italic" font-size="26.6" dy="6.2">H</tspan><tspan font-size="18.6" dy="4.8">2</tspan><tspan dy="-11">⟩)</tspan></text>
<text transform="translate(1188.3,730.5) rotate(-90)" text-anchor="middle" font-size="37.7">Probability Distribution</text>
<text x="1678.5" y="387" text-anchor="middle" font-size="29.5">log<tspan font-size="20.6" dy="5.2">10</tspan><tspan dy="-5.2">(</tspan><tspan font-style="italic">N</tspan><tspan font-style="italic" font-size="20.6" dy="4.8">H</tspan><tspan font-size="14.4" dy="3.8">2</tspan><tspan dy="-8.6">)</tspan></text>
<text y="495.5" font-size="27"><tspan x="1839" font-style="italic">σ</tspan><tspan font-style="italic" font-size="18.9" dy="4">η</tspan><tspan x="1872.7" dy="-4">=</tspan><tspan x="1899.8">0.24</tspan></text>
<text y="532.7" font-size="27"><tspan x="1839" font-style="italic">α</tspan><tspan x="1860.9">=</tspan><tspan x="1892.9">−</tspan><tspan x="1920">1.78</tspan></text>
</svg></body></html>
